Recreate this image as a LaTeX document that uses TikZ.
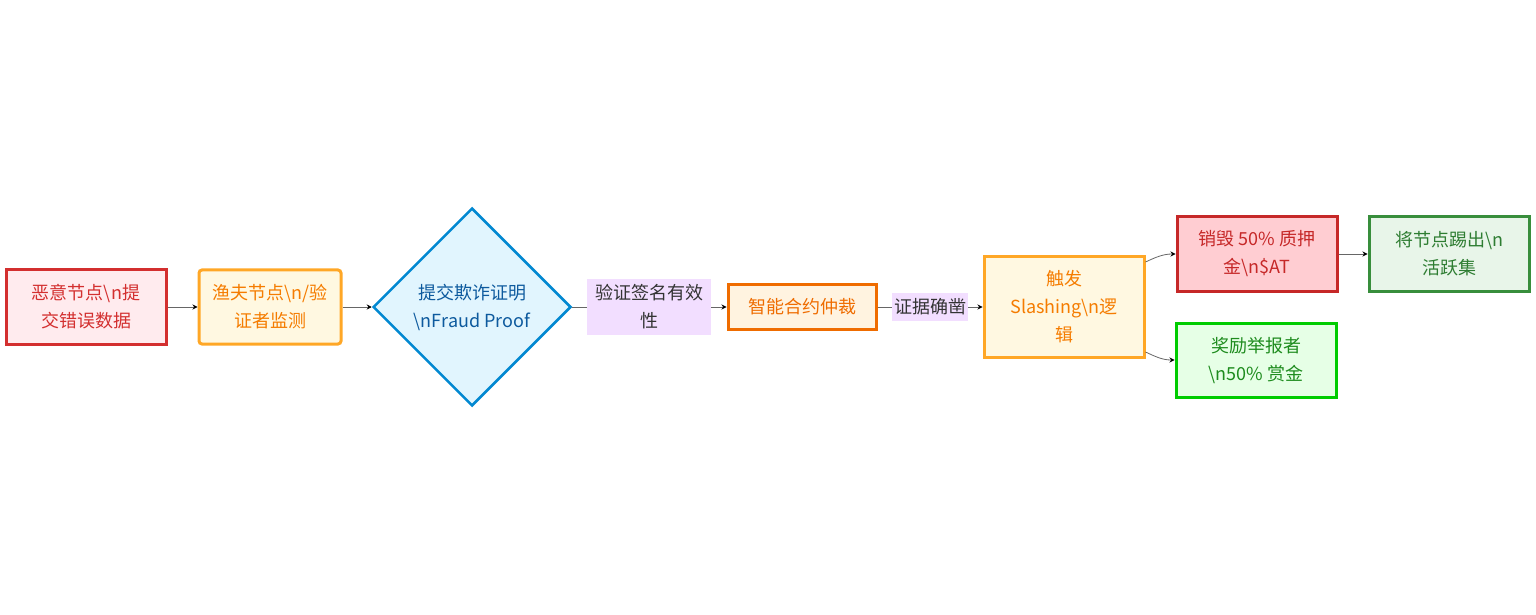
\documentclass[tikz,border=0pt]{standalone}
\usepackage{fontspec}
\setmainfont{Noto Sans CJK SC}
\usepackage{xcolor}
\usepackage{tikz}
\usetikzlibrary{shapes,arrows.meta,positioning,calc}

\definecolor{badfill}{HTML}{FFEBEE}
\definecolor{baddraw}{HTML}{D32F2F}
\definecolor{watchfill}{HTML}{FFF8E1}
\definecolor{watchdraw}{HTML}{FFA726}
\definecolor{watchtext}{HTML}{F57C00}
\definecolor{prooffill}{HTML}{E1F5FE}
\definecolor{proofdraw}{HTML}{0288D1}
\definecolor{prooftext}{HTML}{0D5A9E}
\definecolor{arbfill}{HTML}{FFF3E0}
\definecolor{arbdraw}{HTML}{EF6C00}
\definecolor{burnfill}{HTML}{FFCDD2}
\definecolor{burndraw}{HTML}{C62828}
\definecolor{kickfill}{HTML}{E8F5E9}
\definecolor{kickdraw}{HTML}{388E3C}
\definecolor{kicktext}{HTML}{2E7D32}
\definecolor{rewardfill}{HTML}{E6FFE6}
\definecolor{rewarddraw}{HTML}{00CC00}
\definecolor{rewardtext}{HTML}{1E8C1E}
\definecolor{tagfill}{HTML}{F2DEFF}
\definecolor{tagtext}{HTML}{333333}
\definecolor{edgegray}{HTML}{666666}

\newcommand{\bsn}{\textbackslash n}

\begin{document}
\begin{tikzpicture}[
    x=1pt, y=1pt,
    box/.style={rectangle, draw, line width=3pt, minimum width=160pt, minimum height=74pt, inner sep=0pt, align=center, font=\fontsize{18}{28}\selectfont},
    decision/.style={diamond, draw, line width=2.5pt, aspect=1, minimum width=198pt, minimum height=198pt, inner sep=0pt, align=center, font=\fontsize{18}{28}\selectfont},
    tag/.style={fill=tagfill, text=tagtext, inner sep=2pt, align=center, font=\fontsize{18}{28}\selectfont},
    arrow/.style={-{Stealth[length=5pt, width=5pt, color=black]}, draw=edgegray, line width=0.8pt}
]

\useasboundingbox (0,0) rectangle (1536,614);

% Malicious node
\node[box, fill=badfill, draw=baddraw, text=baddraw] (bad) at (86, 307) {恶意节点\bsn 提\\交错误数据};

% Watcher
\node[box, rounded corners=3pt, minimum width=142pt, fill=watchfill, draw=watchdraw, text=watchtext] (watch) at (270, 307) {渔夫节点\bsn/验\\证者监测};

% Fraud proof
\node[decision, fill=prooffill, draw=proofdraw, text=prooftext] (proof) at (472, 307) {提交欺诈证明\\\bsn Fraud Proof};

% Arbitration
\node[box, minimum width=148pt, minimum height=45pt, fill=arbfill, draw=arbdraw, text=arbdraw] (arb) at (802, 307) {智能合约仲裁};

% Slashing
\node[box, minimum height=101pt, fill=watchfill, draw=watchdraw, text=watchtext] (slash) at (1064, 307) {触发\\Slashing\bsn 逻\\辑};

% Burn stake
\node[box, fill=burnfill, draw=burndraw, text=burndraw] (burn) at (1257, 360) {销毁 50\% 质押\\金\bsn\$AT};

% Kick node
\node[box, fill=kickfill, draw=kickdraw, text=kicktext] (kick) at (1449, 360) {将节点踢出\bsn\\活跃集};

% Reward
\node[box, fill=rewardfill, draw=rewarddraw, text=rewardtext] (reward) at (1256, 254) {奖励举报者\\\bsn 50\% 赏金};

% Arrows
\draw[arrow] (bad) -- (watch);
\draw[arrow] (watch) -- (proof);
\draw[arrow] (proof) -- node[tag, minimum width=124pt, minimum height=56pt] (sigtag) {验证签名有效\\性} (arb);
\draw[arrow] (arb) -- node[tag, minimum height=28pt] (evtag) {证据确凿} (slash);
\draw[arrow] ([yshift=45pt]slash.east) to[out=25, in=180] (burn.west);
\draw[arrow] ([yshift=-45pt]slash.east) to[out=-25, in=180] (reward.west);
\draw[arrow] (burn) -- (kick);

\end{tikzpicture}
\end{document}
